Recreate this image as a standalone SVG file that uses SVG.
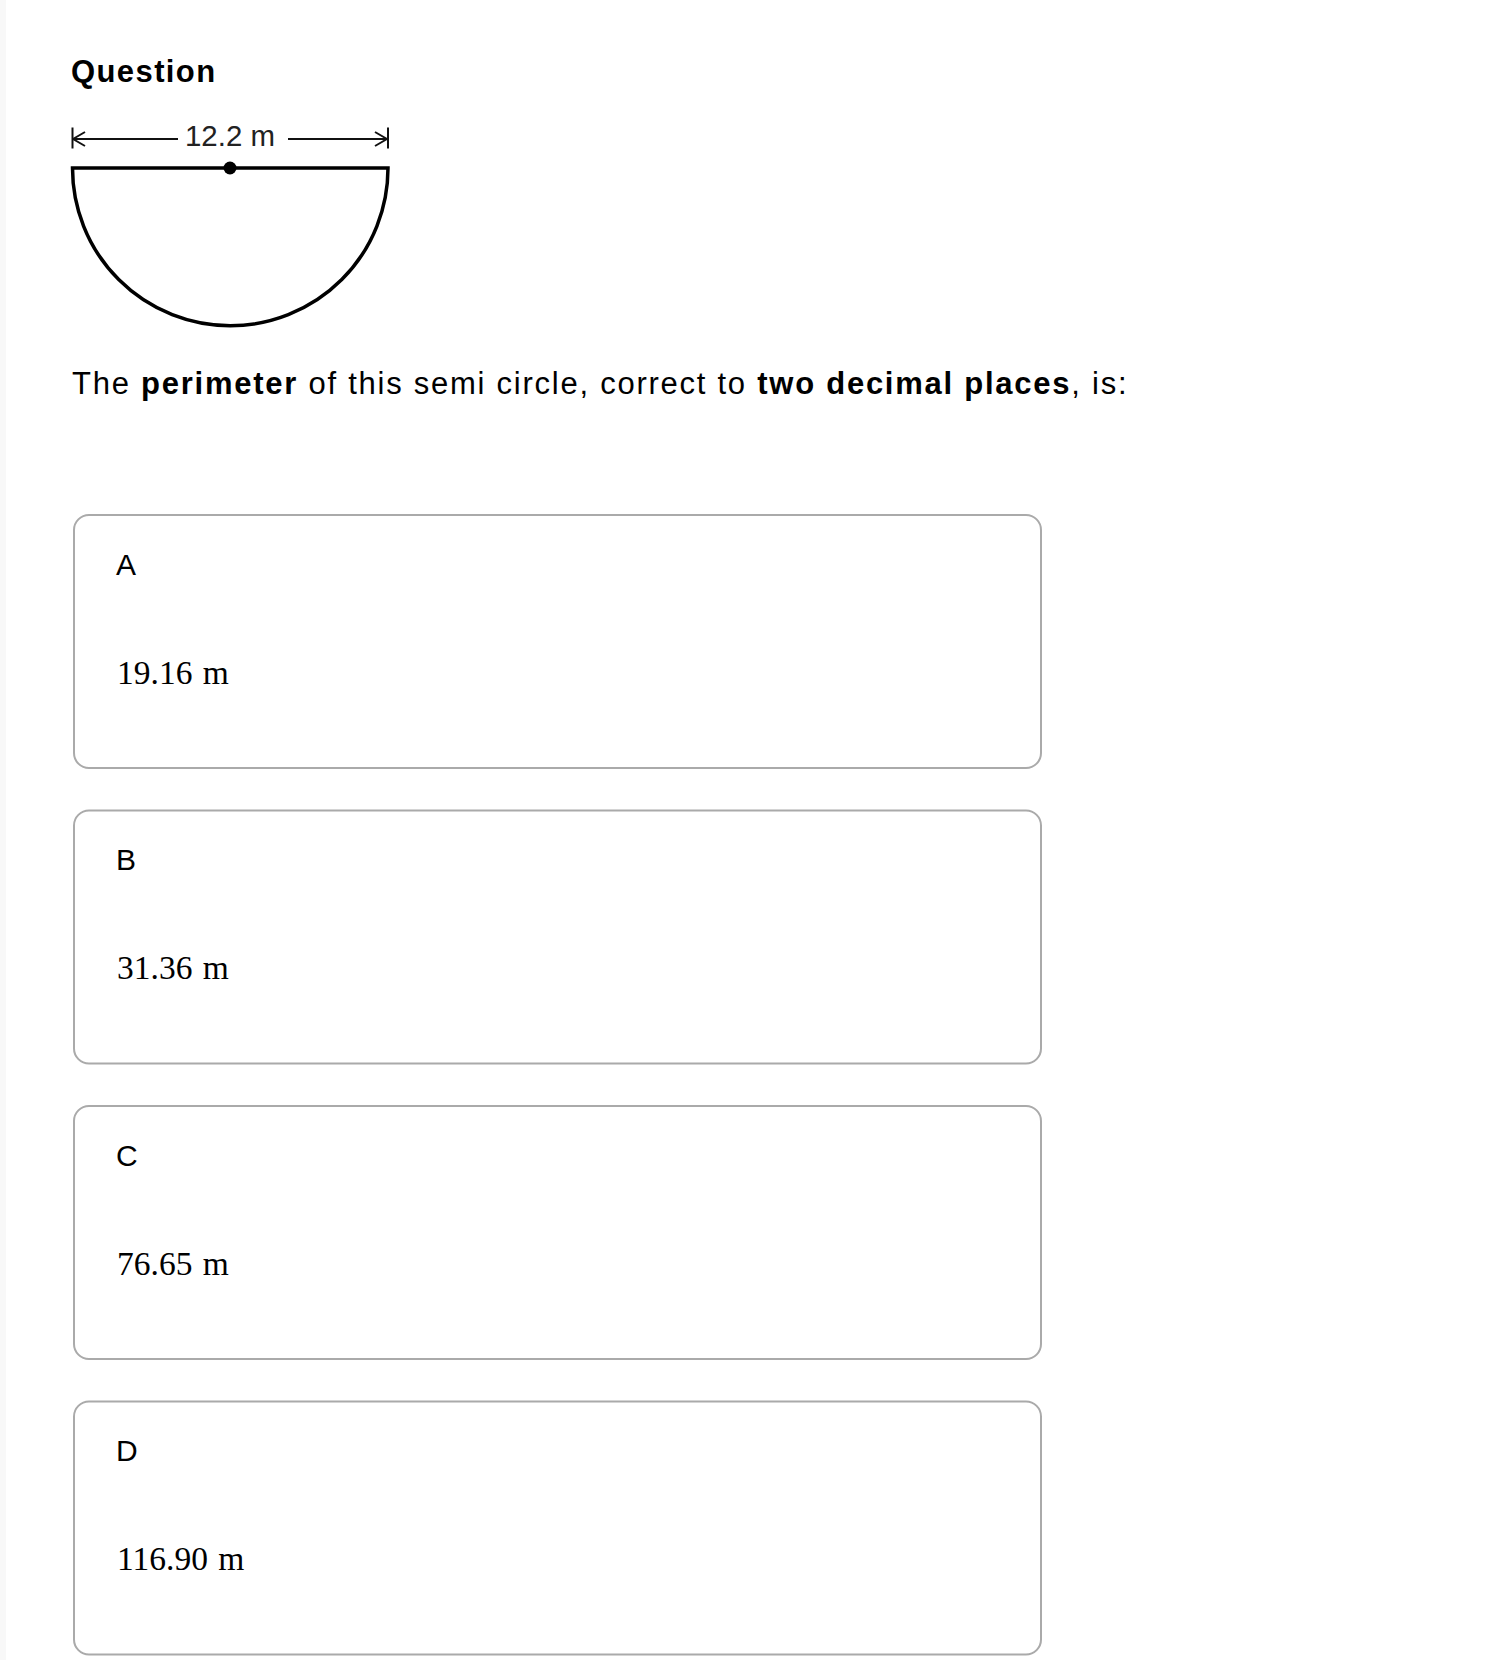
<svg xmlns="http://www.w3.org/2000/svg" width="1504" height="1660" viewBox="0 0 1504 1660">
<defs>
<style>
.sans{font-family:"Liberation Sans",Arial,sans-serif;fill:#000}
.q{font-size:31px;font-weight:bold;letter-spacing:1.4px}
.p{font-size:31px;letter-spacing:1.75px}
.b{font-weight:bold}
.box{fill:#fff;stroke:#aaa;stroke-width:2}
.lab{font-family:"Liberation Sans",Arial,sans-serif;font-size:30px;fill:#000}
.val{font-family:"Liberation Serif","Times New Roman",serif;font-size:33.5px;word-spacing:2px;fill:#000}
.dim{stroke:#111;stroke-width:2;fill:none}
</style>
<marker id="ah" viewBox="0 0 14 16" refX="13" refY="8" markerWidth="14" markerHeight="16" markerUnits="userSpaceOnUse" orient="auto-start-reverse">
<path d="M1,1 L13,8 L1,15" fill="none" stroke="#111" stroke-width="2"/>
</marker>
</defs>
<rect x="0" y="0" width="1504" height="1660" fill="#fff"/>
<rect x="0" y="0" width="6" height="1660" fill="#f8f8f8"/>
<text class="sans q" x="71" y="82">Question</text>
<g id="figure">
<g id="dimension">
<line class="dim" x1="72.5" y1="127.5" x2="72.5" y2="148.5"/>
<line class="dim" x1="388" y1="127.5" x2="388" y2="148.5"/>
<line class="dim" x1="73" y1="139" x2="178" y2="139" marker-start="url(#ah)"/>
<line class="dim" x1="288" y1="139" x2="387" y2="139" marker-end="url(#ah)"/>
<text x="185" y="146" font-family="Liberation Sans, Arial, sans-serif" font-size="29" fill="#222" textLength="90" lengthAdjust="spacingAndGlyphs">12.2 m</text>
</g>
<path d="M72.5,168 L388,168 A157.75,157.75 0 0 1 72.5,168 Z" fill="none" stroke="#000" stroke-width="3.5" stroke-linejoin="miter"/>
<circle cx="230" cy="168" r="6.5" fill="#000"/>
</g>
<text class="sans p" x="72" y="394">The <tspan class="b">perimeter</tspan> of this semi circle, correct to <tspan class="b">two decimal places</tspan>, is:</text>
<g id="optA">
<rect class="box" x="74" y="515" width="967" height="253" rx="15"/>
<text class="lab" x="116" y="575">A</text>
<text class="val" x="117" y="684">19.16 m</text>
</g>
<g id="optB">
<rect class="box" x="74" y="810.5" width="967" height="253" rx="15"/>
<text class="lab" x="116" y="870">B</text>
<text class="val" x="117" y="979">31.36 m</text>
</g>
<g id="optC">
<rect class="box" x="74" y="1106" width="967" height="253" rx="15"/>
<text class="lab" x="116" y="1165.5">C</text>
<text class="val" x="117" y="1274.5">76.65 m</text>
</g>
<g id="optD">
<rect class="box" x="74" y="1401.5" width="967" height="253" rx="15"/>
<text class="lab" x="116" y="1461">D</text>
<text class="val" x="117" y="1570">116.90 m</text>
</g>
<g id="connectors"></g>
</svg>
